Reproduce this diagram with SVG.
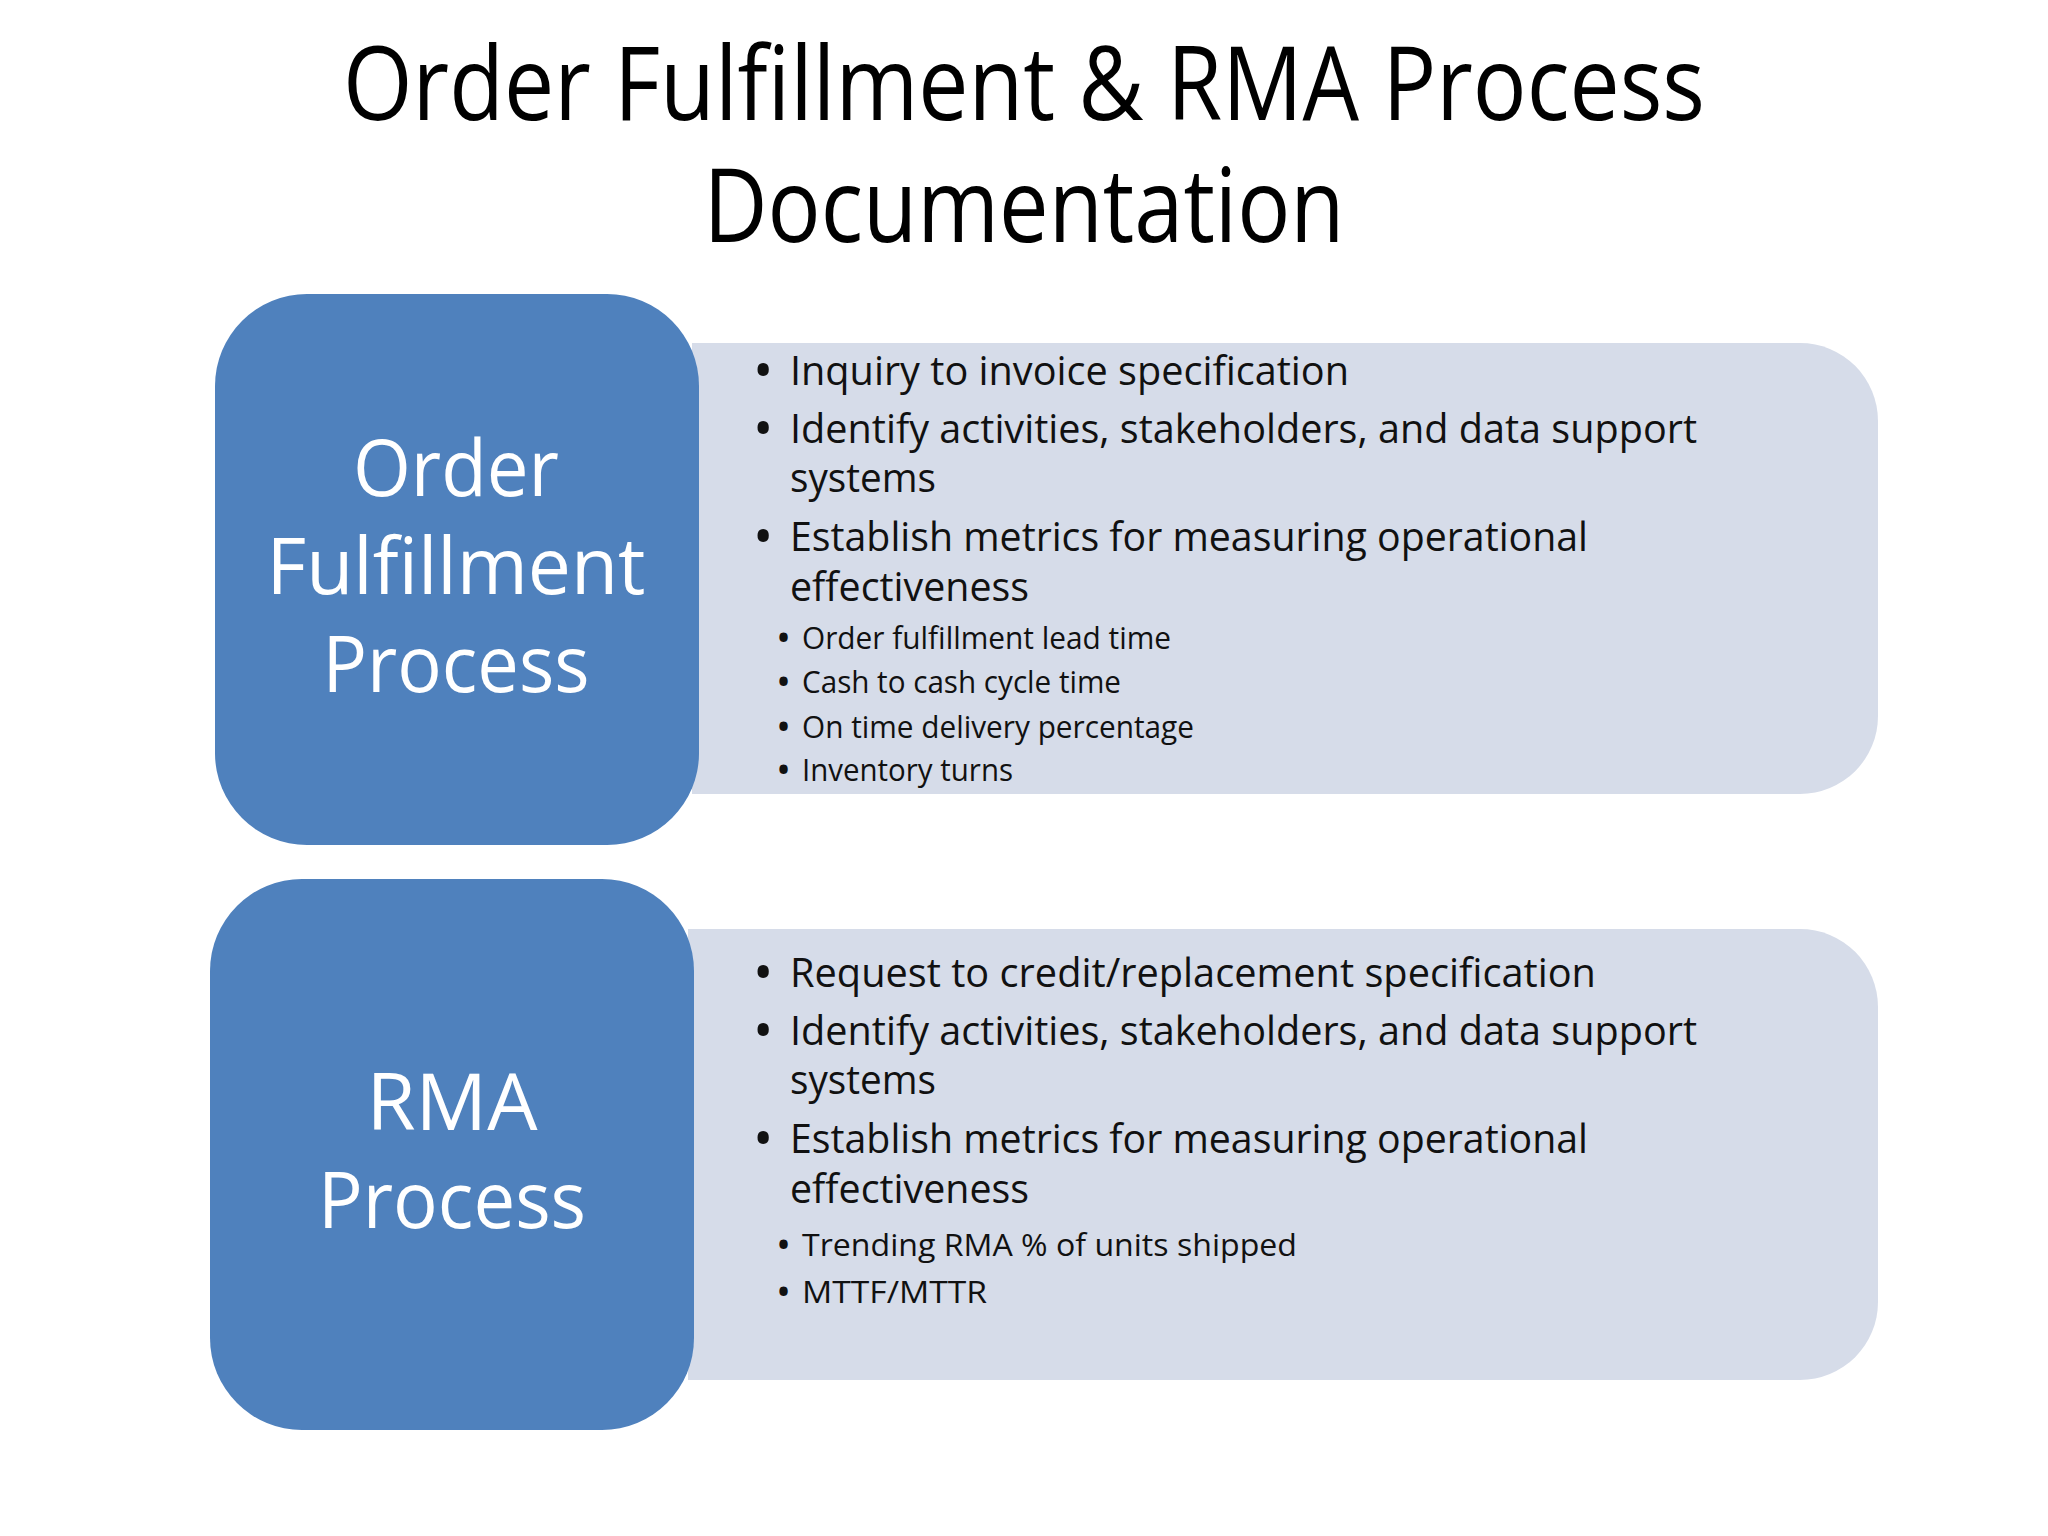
<svg xmlns="http://www.w3.org/2000/svg" width="2048" height="1536" viewBox="0 0 2048 1536">
<style>
text{font-family:"Open Sans","Noto Sans",sans-serif;}
.t{font-size:102px;fill:#000;text-anchor:middle}
.b{font-size:78px;fill:#fff;text-anchor:middle}
.l1{font-size:41px;fill:#111}
.l2{font-size:31px;fill:#111}
.d1{font-size:54px;fill:#111}
.d2{font-size:40px;fill:#111}
.blue{fill:#4F81BD}
.pale{fill:#D6DCE9}
</style>
<rect width="2048" height="1536" fill="#fff"/>
<g id="title">
<text class="t" x="1024" y="120" textLength="1362" lengthAdjust="spacingAndGlyphs">Order Fulfillment &amp; RMA Process</text>
<text class="t" x="1024" y="242" textLength="641" lengthAdjust="spacingAndGlyphs">Documentation</text>
</g>
<g id="of-details">
<path class="pale" d="M692 343 H1800 A78 78 0 0 1 1878 421 V716 A78 78 0 0 1 1800 794 H692 Z"/>
<g class="d1">
<text x="753" y="390">•</text><text x="753" y="448">•</text><text x="753" y="556">•</text>
</g>
<g class="l1">
<text x="790" y="385" textLength="559" lengthAdjust="spacingAndGlyphs">Inquiry to invoice specification</text>
<text x="790" y="443" textLength="907" lengthAdjust="spacingAndGlyphs">Identify activities, stakeholders, and data support</text>
<text x="790" y="492" textLength="146" lengthAdjust="spacingAndGlyphs">systems</text>
<text x="790" y="551" textLength="798" lengthAdjust="spacingAndGlyphs">Establish metrics for measuring operational</text>
<text x="790" y="601" textLength="239" lengthAdjust="spacingAndGlyphs">effectiveness</text>
</g>
<g class="d2">
<text x="776" y="652">•</text><text x="776" y="696">•</text><text x="776" y="741">•</text><text x="776" y="784">•</text>
</g>
<g class="l2">
<text x="802" y="649" textLength="369" lengthAdjust="spacingAndGlyphs">Order fulfillment lead time</text>
<text x="802" y="693" textLength="319" lengthAdjust="spacingAndGlyphs">Cash to cash cycle time</text>
<text x="802" y="738" textLength="392" lengthAdjust="spacingAndGlyphs">On time delivery percentage</text>
<text x="802" y="781" textLength="211" lengthAdjust="spacingAndGlyphs">Inventory turns</text>
</g>
</g>
<g id="of-node">
<rect class="blue" x="215" y="294" width="484" height="551" rx="92"/>
<text class="b" x="456" y="496" textLength="206" lengthAdjust="spacingAndGlyphs">Order</text>
<text class="b" x="456" y="594" textLength="379" lengthAdjust="spacingAndGlyphs">Fulfillment</text>
<text class="b" x="456" y="692" textLength="267" lengthAdjust="spacingAndGlyphs">Process</text>
</g>
<g id="rma-details">
<path class="pale" d="M688 929 H1800 A78 78 0 0 1 1878 1007 V1302 A78 78 0 0 1 1800 1380 H688 Z"/>
<g class="d1">
<text x="753" y="992">•</text><text x="753" y="1050">•</text><text x="753" y="1158">•</text>
</g>
<g class="l1">
<text x="790" y="987" textLength="806" lengthAdjust="spacingAndGlyphs">Request to credit/replacement specification</text>
<text x="790" y="1045" textLength="907" lengthAdjust="spacingAndGlyphs">Identify activities, stakeholders, and data support</text>
<text x="790" y="1094" textLength="146" lengthAdjust="spacingAndGlyphs">systems</text>
<text x="790" y="1153" textLength="798" lengthAdjust="spacingAndGlyphs">Establish metrics for measuring operational</text>
<text x="790" y="1203" textLength="239" lengthAdjust="spacingAndGlyphs">effectiveness</text>
</g>
<g class="d2">
<text x="776" y="1259">•</text><text x="776" y="1306">•</text>
</g>
<g class="l2">
<text x="802" y="1256" textLength="495" lengthAdjust="spacingAndGlyphs">Trending RMA % of units shipped</text>
<text x="802" y="1303" textLength="185" lengthAdjust="spacingAndGlyphs">MTTF/MTTR</text>
</g>
</g>
<g id="rma-node">
<rect class="blue" x="210" y="879" width="484" height="551" rx="92"/>
<text class="b" x="452" y="1130" textLength="171" lengthAdjust="spacingAndGlyphs">RMA</text>
<text class="b" x="452" y="1228" textLength="268" lengthAdjust="spacingAndGlyphs">Process</text>
</g>
<g id="connectors"/>
</svg>
